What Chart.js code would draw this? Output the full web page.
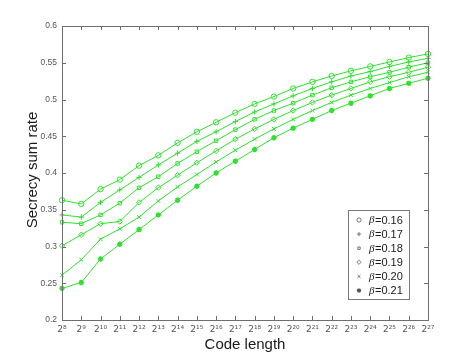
<!DOCTYPE html>
<html>
<head>
<meta charset="utf-8">
<script src="https://cdn.jsdelivr.net/npm/chart.js@4/dist/chart.umd.min.js"></script>
<style>
html,body{margin:0;padding:0;background:#fff;}
#c{display:block;}
</style>
</head>
<body>
<canvas id="c" width="474" height="360"></canvas>
<script>
// exponents of code length 2^n
const exponents = [8,9,10,11,12,13,14,15,16,17,18,19,20,21,22,23,24,25,26,27];
const betaLabels = ['0.16','0.17','0.18','0.19','0.20','0.21'];
const beta016 = [0.363,0.358,0.378,0.391,0.410,0.424,0.441,0.456,0.469,0.482,0.494,0.504,0.515,0.524,0.532,0.539,0.545,0.551,0.557,0.562];
const beta017 = [0.343,0.340,0.360,0.377,0.394,0.411,0.427,0.443,0.456,0.470,0.483,0.494,0.505,0.515,0.524,0.532,0.538,0.545,0.551,0.556];
const beta018 = [0.333,0.331,0.343,0.359,0.380,0.395,0.413,0.429,0.444,0.459,0.473,0.485,0.495,0.506,0.516,0.524,0.531,0.537,0.544,0.550];
const beta019 = [0.301,0.316,0.331,0.334,0.360,0.380,0.397,0.414,0.430,0.446,0.460,0.473,0.485,0.496,0.506,0.515,0.524,0.531,0.537,0.544];
const beta020 = [0.261,0.282,0.310,0.324,0.340,0.362,0.381,0.398,0.415,0.431,0.446,0.460,0.473,0.485,0.496,0.506,0.515,0.523,0.531,0.537];
const beta021 = [0.243,0.251,0.283,0.303,0.323,0.343,0.363,0.382,0.400,0.416,0.432,0.448,0.461,0.473,0.485,0.495,0.505,0.515,0.522,0.529];
const seriesValues = [beta016,beta017,beta018,beta019,beta020,beta021];
const markerStyles = ['circle','cross','rect','rectRot','crossRot','star'];

const green = '#2fe02f';
const sup = {'0':'⁰','1':'¹','2':'²','3':'³','4':'⁴','5':'⁵','6':'⁶','7':'⁷','8':'⁸','9':'⁹'};
function supStr(n){ return String(n).split('').map(ch => sup[ch]).join(''); }

const datasets = seriesValues.map((vals, i) => ({
  label: 'β=' + betaLabels[i],
  data: vals,
  borderColor: green,
  backgroundColor: 'rgba(0,0,0,0)',
  borderWidth: 1,
  pointStyle: markerStyles[i],
  pointRadius: markerStyles[i] === 'rect' ? 2.4 : 2.7,
  pointBorderColor: green,
  pointBorderWidth: markerStyles[i] === 'star' ? 1.6 : 1,
  pointBackgroundColor: markerStyles[i] === 'star' ? green : 'rgba(0,0,0,0)',
  tension: 0,
  fill: false
}));

const framePlugin = {
  id: 'frame',
  afterDraw(chart) {
    const ctx = chart.ctx;
    const a = chart.chartArea;
    const xs = chart.scales.x, ys = chart.scales.y;
    ctx.save();
    ctx.strokeStyle = '#6e6e6e';
    ctx.lineWidth = 1;
    ctx.strokeRect(Math.round(a.left)+0.5, Math.round(a.top)+0.5, Math.round(a.right-a.left), Math.round(a.bottom-a.top));
    ctx.beginPath();
    const tl = 4;
    xs.ticks.forEach((t, i) => {
      const px = Math.round(xs.getPixelForTick(i)) + 0.5;
      ctx.moveTo(px, a.bottom); ctx.lineTo(px, a.bottom - tl);
      ctx.moveTo(px, a.top); ctx.lineTo(px, a.top + tl);
    });
    ys.ticks.forEach((t) => {
      const py = Math.round(ys.getPixelForValue(t.value)) + 0.5;
      ctx.moveTo(a.left, py); ctx.lineTo(a.left + tl, py);
      ctx.moveTo(a.right, py); ctx.lineTo(a.right - tl, py);
    });
    ctx.stroke();

    // axis titles
    ctx.fillStyle = '#1a1a1a';
    ctx.font = '15px "Liberation Sans", Arial, sans-serif';
    ctx.textAlign = 'center';
    ctx.textBaseline = 'middle';
    ctx.fillText('Code length', (a.left + a.right) / 2, 345);
    ctx.save();
    ctx.translate(33, (a.top + a.bottom) / 2 - 3);
    ctx.rotate(-Math.PI / 2);
    ctx.fillText('Secrecy sum rate', 0, 0);
    ctx.restore();

    // legend box
    const bw = 61, bh = 89;
    const bx = Math.round(a.right) - 19 - bw, by = Math.round(a.bottom) - 21 - bh;
    ctx.fillStyle = '#fff';
    ctx.fillRect(bx, by, bw, bh);
    ctx.strokeStyle = '#7a7a7a';
    ctx.strokeRect(bx + 0.5, by + 0.5, bw, bh);
    const rowH = 14.1;
    chart.data.datasets.forEach((ds, i) => {
      const cy = by + 10 + i * rowH;
      const mx = bx + 11;
      if (Chart.helpers && Chart.helpers.drawPoint) {
        ctx.strokeStyle = '#555';
        ctx.fillStyle = ds.pointStyle === 'star' ? '#555' : 'rgba(0,0,0,0)';
        ctx.lineWidth = ds.pointStyle === 'star' ? 1.3 : 0.8;
        Chart.helpers.drawPoint(ctx, {pointStyle: ds.pointStyle, radius: ds.pointStyle === 'rect' ? 1.7 : 2.1, rotation: 0, borderWidth: 1}, mx, cy);
      }
      ctx.fillStyle = '#1a1a1a';
      ctx.textAlign = 'left';
      ctx.textBaseline = 'middle';
      ctx.font = 'italic 11px "Liberation Serif", "Times New Roman", serif';
      const tx = bx + 21;
      ctx.fillText('β', tx, cy + 0.5);
      const w = ctx.measureText('β').width;
      ctx.font = '11px "Liberation Sans", Arial, sans-serif';
      ctx.fillText('=' + betaLabels[i], tx + w + 0.5, cy + 0.5);
    });
    ctx.restore();
  }
};

new Chart(document.getElementById('c'), {
  type: 'line',
  data: { labels: exponents, datasets: datasets },
  options: {
    responsive: false,
    animation: false,
    devicePixelRatio: 1,
    layout: { padding: { left: 0, right: 46, top: 26, bottom: 0 } },
    plugins: { legend: { display: false }, tooltip: { enabled: false } },
    scales: {
      x: {
        type: 'category',
        offset: false,
        grid: { display: false, drawTicks: false },
        border: { display: false },
        ticks: {
          autoSkip: false, maxRotation: 0, minRotation: 0, padding: 4,
          color: '#555',
          font: { size: 9, family: '"DejaVu Sans", sans-serif' },
          callback: function(v, i) { return '2' + supStr(exponents[i]); }
        },
        afterFit(s) { s.height = 40; }
      },
      y: {
        min: 0.2, max: 0.6,
        grid: { display: false, drawTicks: false },
        border: { display: false },
        ticks: {
          stepSize: 0.05, padding: 5,
          color: '#555',
          font: { size: 8.5, family: '"Liberation Sans", Arial, sans-serif' },
          callback: function(v) { return String(parseFloat(Number(v).toFixed(2))); }
        },
        afterFit(s) { s.width = 62; }
      }
    }
  },
  plugins: [framePlugin]
});
</script>
</body>
</html>
